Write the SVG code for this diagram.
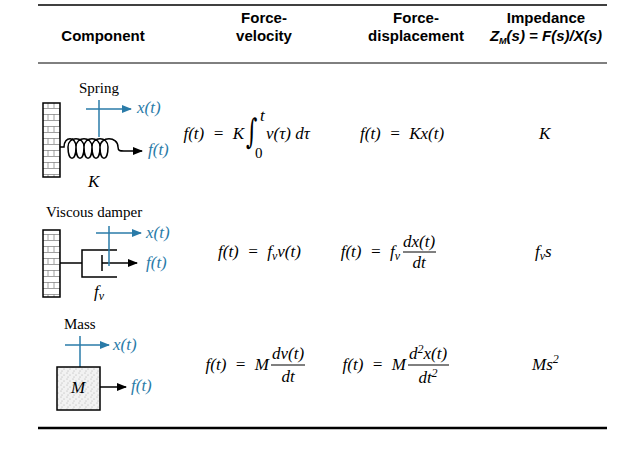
<svg xmlns="http://www.w3.org/2000/svg" width="644" height="450" viewBox="0 0 644 450">
<defs>
<marker id="ab" markerWidth="10" markerHeight="8" refX="9" refY="4" orient="auto" markerUnits="userSpaceOnUse"><path d="M0,0 L10,4 L0,8 z" fill="#2a7ba8"/></marker>
<marker id="ak" markerWidth="10" markerHeight="8" refX="9" refY="4" orient="auto" markerUnits="userSpaceOnUse"><path d="M0,0 L10,4 L0,8 z" fill="#000"/></marker>
<pattern id="brick" width="17" height="12" patternUnits="userSpaceOnUse"><rect width="17" height="12" fill="#fff"/><path d="M0,0.5 H17 M0,6.5 H17 M8.5,0 V6 M3,6 V12 M14,6 V12" stroke="#888" stroke-width="0.8" fill="none"/></pattern>
<pattern id="dots" width="6" height="6" patternUnits="userSpaceOnUse"><rect width="6" height="6" fill="#f2f2f2"/><circle cx="1" cy="1" r="0.4" fill="#666"/><circle cx="4" cy="3" r="0.4" fill="#666"/><circle cx="2" cy="5" r="0.4" fill="#666"/></pattern>
</defs>
<style>
.h{font-family:"Liberation Sans",Arial,sans-serif;font-weight:bold;font-size:15px;text-anchor:middle}
.m{font-family:"Liberation Serif","Times New Roman",serif;font-style:italic;font-size:17px;white-space:pre}
.e{text-anchor:end}
.r{font-family:"Liberation Serif","Times New Roman",serif;font-size:15px}
.b{fill:#2a7ba8}
.bl{stroke:#2a7ba8;stroke-width:1.5;fill:none}
.k{stroke:#000;stroke-width:1.5;fill:none}
.w{fill:url(#brick);stroke:#000;stroke-width:1.5}
</style>
<g id="rules" stroke="#000">
<line x1="38" y1="5" x2="607" y2="5" stroke-width="1.5"/>
<line x1="38" y1="63" x2="607" y2="63" stroke-width="1"/>
<line x1="38" y1="428" x2="607" y2="428" stroke-width="2.5"/>
</g>
<g id="header">
<text class="h" x="103" y="41">Component</text>
<text class="h" x="264" y="23">Force-</text><text class="h" x="264" y="41">velocity</text>
<text class="h" x="416" y="23">Force-</text><text class="h" x="416" y="41">displacement</text>
<text class="h" x="546" y="23">Impedance</text>
<text class="h" x="546" y="41" font-style="italic">Z<tspan font-size="9" dy="3">M</tspan><tspan dy="-3">(s)  =  F(s)/X(s)</tspan></text>
</g>
<g id="spring">
<text class="r" x="79" y="93">Spring</text>
<rect class="w" x="43" y="103" width="17" height="74"/>
<path class="k" d="M60,147 H64 C64,136 76,136 76,147 C76,162 68,162 68,147 C68,136 84,136 84,147 C84,162 76,162 76,147 C76,136 92,136 92,147 C92,162 84,162 84,147 C84,136 100,136 100,147 C100,162 92,162 92,147 C92,136 108,136 108,147 C108,162 100,162 100,147 C100,136 118,136 118,147 C118,151 120,151 124,151 H142" marker-end="url(#ak)"/>
<line class="bl" x1="86" y1="109" x2="131" y2="109" marker-end="url(#ab)"/>
<line class="bl" x1="99" y1="100" x2="99" y2="137"/>
<text class="m b" x="137" y="113">x(t)</text>
<text class="m b" x="148" y="155">f(t)</text>
<text class="m" x="88" y="187">K</text>
</g>
<g id="damper">
<text class="r" x="46" y="217">Viscous damper</text>
<rect class="w" x="43" y="230" width="17" height="67"/>
<path class="k" d="M60,263 H82 M117,250 H82 V277 H117 M102,255 V271"/>
<line class="k" x1="102" y1="263" x2="137" y2="263" marker-end="url(#ak)"/>
<line class="bl" x1="96" y1="233" x2="141" y2="233" marker-end="url(#ab)"/>
<line class="bl" x1="109" y1="226" x2="109" y2="266"/>
<text class="m b" x="146" y="238">x(t)</text>
<text class="m b" x="146" y="268">f(t)</text>
<text class="m" x="94" y="297">f<tspan font-size="12" dy="3">v</tspan></text>
</g>
<g id="mass">
<text class="r" x="64" y="329">Mass</text>
<line class="bl" x1="65" y1="345" x2="109" y2="345" marker-end="url(#ab)"/>
<line class="bl" x1="80" y1="336" x2="80" y2="367"/>
<text class="m b" x="113" y="350">x(t)</text>
<rect x="57" y="367" width="43" height="43" fill="url(#dots)" stroke="#000" stroke-width="1.5"/>
<text class="m" x="78" y="393" text-anchor="middle">M</text>
<line class="k" x1="100" y1="387" x2="126" y2="387" marker-end="url(#ak)"/>
<text class="m b" x="131" y="391">f(t)</text>
</g>
<g id="formulas">
<text class="m e" x="244" y="139">f(t)  =  K</text>
<text x="246" y="92" font-family="'DejaVu Serif',serif" font-size="22" transform="scale(1,1.55)">∫</text>
<text class="m" x="260" y="121" font-size="12">t</text>
<text class="r" x="255" y="158" font-size="13">0</text>
<text class="m" x="266" y="139">v(τ) dτ</text>
<text class="m" x="360" y="139">f(t)  =  Kx(t)</text>
<text class="m" x="539" y="139">K</text>
<text class="m" x="218" y="257">f(t)  =  f<tspan font-size="12" dy="3">v</tspan><tspan dy="-3">v(t)</tspan></text>
<text class="m e" x="400" y="257">f(t)  =  f<tspan font-size="12" dy="3">v</tspan></text>
<text class="m" x="419" y="247" text-anchor="middle">dx(t)</text>
<line x1="403" y1="252" x2="436" y2="252" stroke="#000"/>
<text class="m" x="419" y="268" text-anchor="middle">dt</text>
<text class="m" x="535" y="257">f<tspan font-size="12" dy="3">v</tspan><tspan dy="-3">s</tspan></text>
<text class="m e" x="269" y="370">f(t)  =  M</text>
<text class="m" x="288" y="359" text-anchor="middle">dv(t)</text>
<line x1="271" y1="365" x2="305" y2="365" stroke="#000"/>
<text class="m" x="288" y="382" text-anchor="middle">dt</text>
<text class="m e" x="406" y="370">f(t)  =  M</text>
<text class="m" x="428" y="359" text-anchor="middle">d<tspan font-size="12" dy="-6">2</tspan><tspan dy="6">x(t)</tspan></text>
<line x1="408" y1="365" x2="449" y2="365" stroke="#000"/>
<text class="m" x="428" y="383" text-anchor="middle">dt<tspan font-size="12" dy="-6">2</tspan></text>
<text class="m" x="532" y="370">Ms<tspan font-size="12" dy="-7">2</tspan></text>
</g>
</svg>
